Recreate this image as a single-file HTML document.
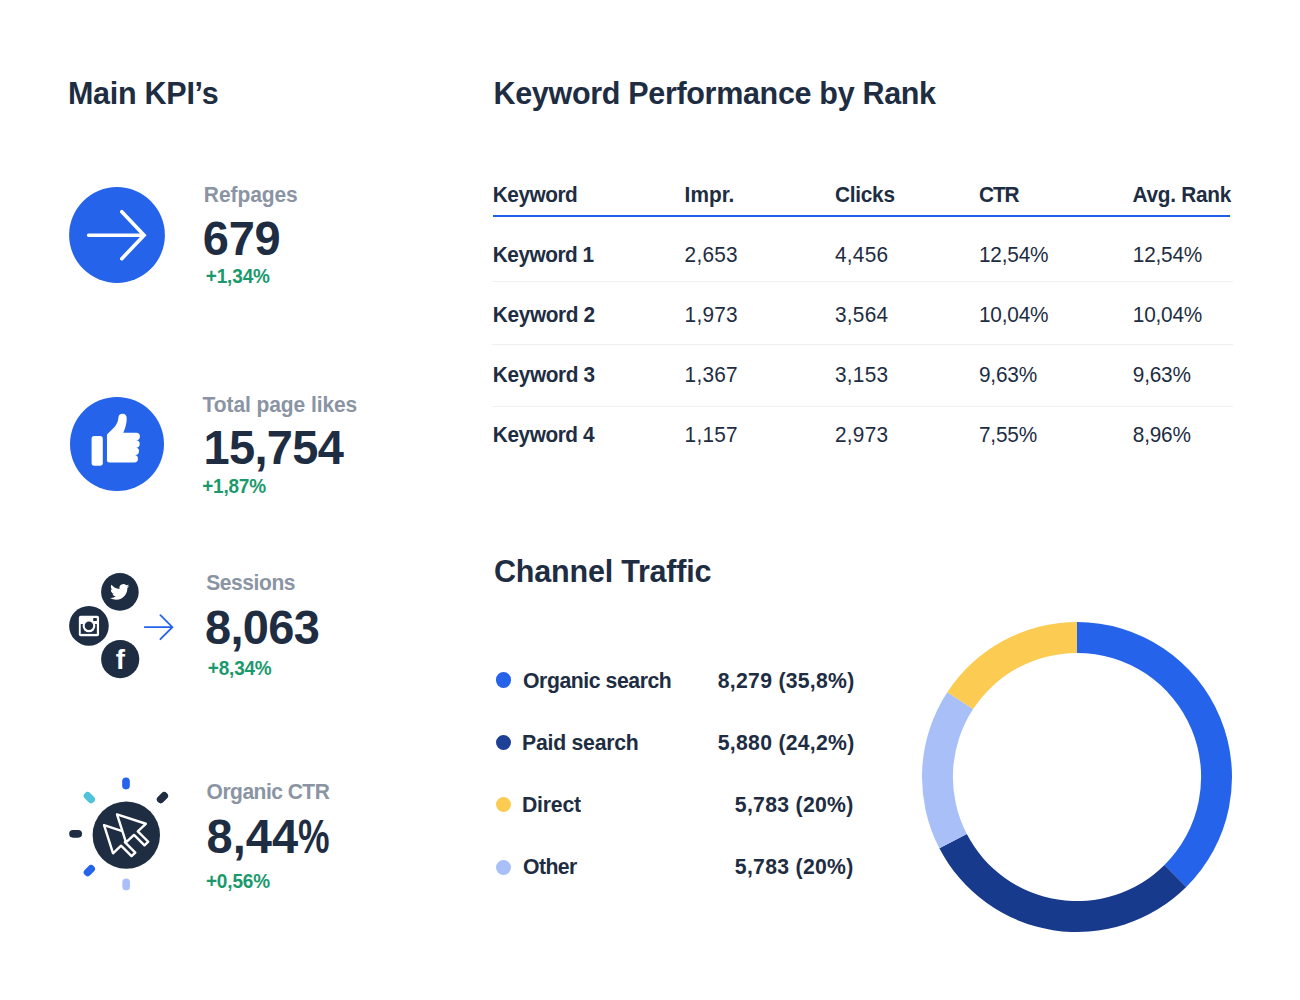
<!DOCTYPE html>
<html lang="en">
<head>
<meta charset="utf-8">
<title>SEO Dashboard</title>
<style>
  html, body { margin: 0; padding: 0; }
  body {
    width: 1300px; height: 1000px; position: relative; overflow: hidden;
    background: #ffffff;
    font-family: "Liberation Sans", sans-serif;
    color: #1e2d42;
  }
  .abs { position: absolute; white-space: nowrap; line-height: 1; transform-origin: 0 84.65%; }
  .h1  { font-size: 30.5px; font-weight: bold; color: #1e2d42; transform: scaleY(1.04); }
  .lbl { font-size: 21px; font-weight: bold; color: #8a94a3; transform: scaleY(1.07); }
  .num { font-size: 47px; font-weight: bold; color: #1e2d42; transform: scaleY(1.04); }
  .pct { font-size: 19px; font-weight: bold; color: #1a9a6c; transform: scaleY(1.065); }
  .th  { font-size: 20.8px; font-weight: bold; color: #1e2d42; transform: scaleY(1.08); }
  .td  { font-size: 20.8px; font-weight: normal; color: #1e2d42; transform: scaleY(1.08); }
  .lg  { font-size: 21.2px; font-weight: bold; color: #1e2d42; transform: scaleY(1.05); }
  .pc  { display: inline-block; transform: scaleX(0.755); transform-origin: 0 50%; }
  .rule { position: absolute; left: 493px; top: 215px; width: 736.9px; height: 2px; background: #1f5eea; }
  .line { position: absolute; left: 492px; width: 741px; height: 1px; background: #eff0f3; }
  .dot  { position: absolute; left: 496px; width: 15.4px; height: 15.4px; border-radius: 50%; }
  svg { position: absolute; overflow: visible; }
</style>
</head>
<body>

<!-- ============ LEFT COLUMN : MAIN KPI'S ============ -->
<div class="abs h1" style="left:67.9px; top:78.0px; letter-spacing:-0.26px;">Main KPI’s</div>
<!-- KPI 1 : arrow in circle -->
<svg style="left:69px; top:186.5px;" width="96" height="96" viewBox="0 0 96 96">
  <circle cx="48" cy="48" r="47.9" fill="#2563eb"/>
  <path d="M19.6 48.2 H74.5 M52.8 24.7 L75.1 48.2 L52.8 71.7" fill="none" stroke="#fff" stroke-width="3.6" stroke-linecap="round" stroke-linejoin="miter"/>
</svg>

<div class="abs lbl" style="left:203.8px; top:184.0px; letter-spacing:-0.08px;">Refpages</div>
<div class="abs num" style="left:202.8px; top:214.7px; letter-spacing:-0.24px;">679</div>
<div class="abs pct" style="left:205.8px; top:267.3px; letter-spacing:-0.17px;">+1,34%</div>
<!-- KPI 2 : thumbs up -->
<svg style="left:70px; top:396.7px;" width="94" height="94" viewBox="0 0 94 94">
  <circle cx="47" cy="47" r="47" fill="#2563eb"/>
  <rect x="21.6" y="38.9" width="11.2" height="29.8" rx="2.6" fill="#fff"/>
  <path d="M39 65.5 Q36.96 65.5 36.96 63.3 V37.6 L44.5 30 Q48.2 25.5 48.4 20.5 Q48.8 16.8 52.4 16.8 Q56.7 16.8 56.7 21.5 Q56.7 28 53.3 35.8 H66.2 a3.7 3.7 0 0 1 0 7.4 h-0.2 a3.7 3.7 0 0 1 0 7.4 h-0.7 a3.7 3.7 0 0 1 0 7.4 h-1.1 a3.75 3.75 0 0 1 0 7.5 Z" fill="#fff"/>
</svg>

<div class="abs lbl" style="left:202.6px; top:393.7px; letter-spacing:-0.09px;">Total page likes</div>
<div class="abs num" style="left:203.4px; top:424.1px; letter-spacing:-0.64px;">15,754</div>
<div class="abs pct" style="left:202.2px; top:477.1px; letter-spacing:-0.21px;">+1,87%</div>
<!-- KPI 3 : social icons -->
<svg style="left:60px; top:566px;" width="130" height="120" viewBox="60 566 130 120">
  <!-- twitter -->
  <circle cx="119.9" cy="591.9" r="18.8" fill="#1e2d42"/>
  <path transform="translate(110.1 582.3) scale(0.8)" fill="#fff" d="M23.953 4.57a10 10 0 01-2.825.775 4.958 4.958 0 002.163-2.723c-.951.555-2.005.959-3.127 1.184a4.92 4.92 0 00-8.384 4.482C7.69 8.095 4.067 6.13 1.64 3.162a4.822 4.822 0 00-.666 2.475c0 1.71.87 3.213 2.188 4.096a4.904 4.904 0 01-2.228-.616v.06a4.923 4.923 0 003.946 4.827 4.996 4.996 0 01-2.212.085 4.936 4.936 0 004.604 3.417 9.867 9.867 0 01-6.102 2.105c-.39 0-.779-.023-1.17-.067a13.995 13.995 0 007.557 2.209c9.053 0 13.998-7.496 13.998-13.985 0-.21 0-.42-.015-.63A9.935 9.935 0 0024 4.59z"/>
  <!-- instagram -->
  <g transform="translate(88.95 625.85)">
    <circle cx="0" cy="0" r="19.8" fill="#1e2d42"/>
    <rect x="-10.1" y="-10.1" width="20.2" height="20.4" rx="1.9" fill="#fff"/>
    <rect x="-8.2" y="-1.8" width="16.1" height="9.85" fill="#1e2d42"/>
    <circle cx="0" cy="0" r="6.4" fill="#fff"/>
    <circle cx="0" cy="0" r="4.25" fill="#1e2d42"/>
    <rect x="4.2" y="-7.8" width="3.7" height="2.9" rx="0.4" fill="#1e2d42"/>
  </g>
  <!-- facebook -->
  <circle cx="120.2" cy="659.1" r="19.1" fill="#1e2d42"/>
  <text x="120.3" y="669.1" text-anchor="middle" font-family="'Liberation Sans', sans-serif" font-weight="bold" font-size="27.5" fill="#fff">f</text>
  <!-- arrow -->
  <path d="M144.8 627.2 H172 M160.4 615.2 L172.4 627.2 L160.4 639.2" fill="none" stroke="#2563eb" stroke-width="1.8" stroke-linecap="round" stroke-linejoin="miter"/>
</svg>

<div class="abs lbl" style="left:206.2px; top:572.0px; letter-spacing:-0.41px;">Sessions</div>
<div class="abs num" style="left:204.9px; top:604.1px; letter-spacing:-0.64px;">8,063</div>
<div class="abs pct" style="left:207.8px; top:658.7px; letter-spacing:-0.20px;">+8,34%</div>
<!-- KPI 4 : cursor icon -->
<svg style="left:60px; top:770px;" width="130" height="125" viewBox="60 770 130 125">
  <g fill="none" stroke-width="7.7" stroke-linecap="round">
    <path d="M126 781.4 V785.6" stroke="#2563eb"/>
    <path d="M160.7 799.4 L164.2 795.9" stroke="#1e2d42"/>
    <path d="M87.6 795.9 L91.1 799.4" stroke="#4fc4d8"/>
    <path d="M73 833.8 H78.2" stroke="#1e2d42"/>
    <path d="M87.6 872.4 L91.1 868.9" stroke="#2563eb"/>
    <path d="M126.2 882.4 V886.6" stroke="#a8c0f7"/>
  </g>
  <circle cx="126.3" cy="835.1" r="33.7" fill="#1e2d42"/>
  <g transform="translate(126.3 835.1)" fill="#1e2d42" stroke="#fff" stroke-width="2.4" stroke-linejoin="round">
    <path transform="translate(-12.96 10.8)" d="M-9.29 -20.7 L19.5 -11.34 L11.5 -3.76 L21.96 6.63 L18.2 10.19 L7.72 -0.2 L-0.29 7.38 Z"/>
    <path d="M-9.29 -20.7 L19.5 -11.34 L11.5 -3.76 L21.96 6.63 L18.2 10.19 L7.72 -0.2 L-0.29 7.38 Z"/>
  </g>
</svg>

<div class="abs lbl" style="left:206.6px; top:781.0px; letter-spacing:-0.51px;">Organic CTR</div>
<div class="abs num" style="left:206.6px; top:813.3px; letter-spacing:0px;">8,44<span class="pc">%</span></div>
<div class="abs pct" style="left:205.9px; top:872.0px; letter-spacing:-0.14px;">+0,56%</div>

<!-- ============ RIGHT COLUMN : KEYWORD TABLE ============ -->
<div class="abs h1" style="left:493.5px; top:78.0px; letter-spacing:-0.32px;">Keyword Performance by Rank</div>
<div class="abs th" style="left:492.8px; top:185.0px; letter-spacing:-0.49px;">Keyword</div>
<div class="abs th" style="left:684.6px; top:185.0px; letter-spacing:0.02px;">Impr.</div>
<div class="abs th" style="left:835.0px; top:185.0px; letter-spacing:-0.26px;">Clicks</div>
<div class="abs th" style="left:979.0px; top:185.0px; letter-spacing:-1.06px;">CTR</div>
<div class="abs th" style="left:1132.6px; top:185.0px; letter-spacing:-0.28px;">Avg. Rank</div>
<div class="rule"></div>
<div class="abs th" style="left:492.8px; top:245.1px; letter-spacing:-0.48px;">Keyword 1</div>
<div class="abs td" style="left:684.6px; top:245.1px; letter-spacing:0.25px;">2,653</div>
<div class="abs td" style="left:835.0px; top:245.1px; letter-spacing:0.25px;">4,456</div>
<div class="abs td" style="left:979.0px; top:245.1px; letter-spacing:-0.20px;">12,54%</div>
<div class="abs td" style="left:1132.8px; top:245.1px; letter-spacing:-0.20px;">12,54%</div>
<div class="line" style="top:281.1px;"></div>
<div class="abs th" style="left:492.8px; top:305.1px; letter-spacing:-0.35px;">Keyword 2</div>
<div class="abs td" style="left:684.6px; top:305.1px; letter-spacing:0.25px;">1,973</div>
<div class="abs td" style="left:835.0px; top:305.1px; letter-spacing:0.25px;">3,564</div>
<div class="abs td" style="left:979.0px; top:305.1px; letter-spacing:-0.20px;">10,04%</div>
<div class="abs td" style="left:1132.8px; top:305.1px; letter-spacing:-0.20px;">10,04%</div>
<div class="line" style="top:344.0px;"></div>
<div class="abs th" style="left:492.8px; top:365.1px; letter-spacing:-0.35px;">Keyword 3</div>
<div class="abs td" style="left:684.6px; top:365.1px; letter-spacing:0.25px;">1,367</div>
<div class="abs td" style="left:835.0px; top:365.1px; letter-spacing:0.25px;">3,153</div>
<div class="abs td" style="left:979.0px; top:365.1px; letter-spacing:-0.20px;">9,63%</div>
<div class="abs td" style="left:1132.8px; top:365.1px; letter-spacing:-0.20px;">9,63%</div>
<div class="line" style="top:406.0px;"></div>
<div class="abs th" style="left:492.8px; top:425.1px; letter-spacing:-0.43px;">Keyword 4</div>
<div class="abs td" style="left:684.6px; top:425.1px; letter-spacing:0.25px;">1,157</div>
<div class="abs td" style="left:835.0px; top:425.1px; letter-spacing:0.25px;">2,973</div>
<div class="abs td" style="left:979.0px; top:425.1px; letter-spacing:-0.20px;">7,55%</div>
<div class="abs td" style="left:1132.8px; top:425.1px; letter-spacing:-0.20px;">8,96%</div>

<!-- ============ RIGHT COLUMN : CHANNEL TRAFFIC ============ -->
<div class="abs h1" style="left:494.0px; top:556.3px; letter-spacing:-0.20px;">Channel Traffic</div>
<div class="dot" style="top:672.4px; background:#2563eb;"></div>
<div class="abs lg" style="left:523.0px; top:669.5px; letter-spacing:-0.42px;">Organic search</div>
<div class="abs lg" style="left:717.8px; top:669.5px; letter-spacing:0.28px;">8,279 (35,8%)</div>
<div class="dot" style="top:734.8px; background:#1e4097;"></div>
<div class="abs lg" style="left:522.0px; top:731.5px; letter-spacing:-0.22px;">Paid search</div>
<div class="abs lg" style="left:717.8px; top:731.5px; letter-spacing:0.28px;">5,880 (24,2%)</div>
<div class="dot" style="top:797.1px; background:#fbcb52;"></div>
<div class="abs lg" style="left:522.0px; top:793.6px; letter-spacing:-0.20px;">Direct</div>
<div class="abs lg" style="left:734.8px; top:793.6px; letter-spacing:0.31px;">5,783 (20%)</div>
<div class="dot" style="top:859.5px; background:#a8c0f7;"></div>
<div class="abs lg" style="left:523.0px; top:855.8px; letter-spacing:-0.56px;">Other</div>
<div class="abs lg" style="left:734.8px; top:855.8px; letter-spacing:0.31px;">5,783 (20%)</div>
<svg style="left:922.1px; top:622px;" width="310" height="310" viewBox="0 0 310 310">
  <path d="M155.00 0.00 A155.0 155.0 0 0 1 264.22 264.98 L242.45 243.06 A124.1 124.1 0 0 0 155.00 30.90 Z" fill="#2563eb"/>
  <path d="M264.22 264.98 A155.0 155.0 0 0 1 17.39 226.33 L44.82 212.11 A124.1 124.1 0 0 0 242.45 243.06 Z" fill="#173a8c"/>
  <path d="M17.39 226.33 A155.0 155.0 0 0 1 25.30 70.13 L51.16 87.05 A124.1 124.1 0 0 0 44.82 212.11 Z" fill="#a8c0f7"/>
  <path d="M25.30 70.13 A155.0 155.0 0 0 1 155.00 0.00 L155.00 30.90 A124.1 124.1 0 0 0 51.16 87.05 Z" fill="#fbcb52"/>
</svg>

</body>
</html>
